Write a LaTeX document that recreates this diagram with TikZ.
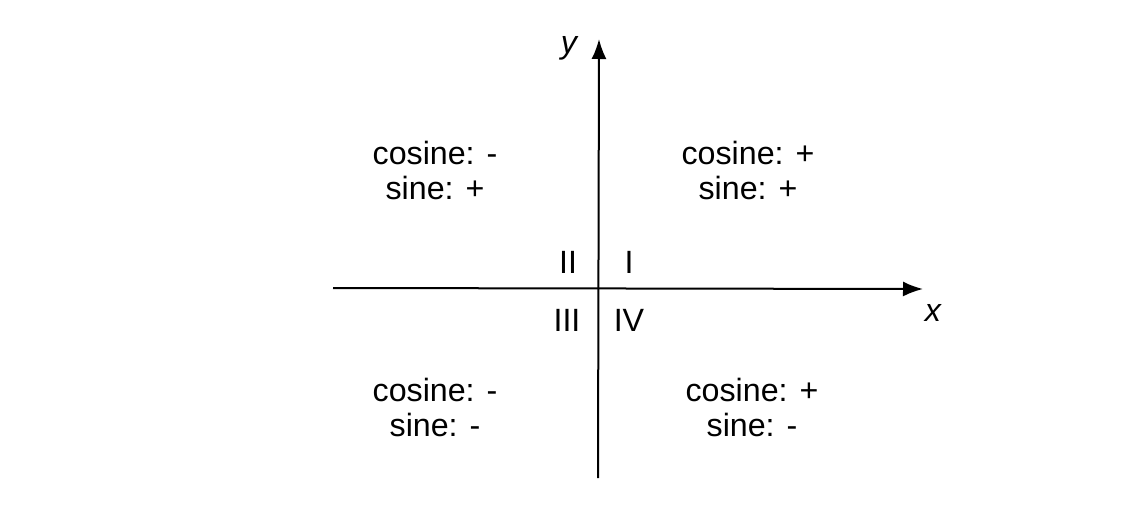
\documentclass[tikz,border=0pt]{standalone}
\usepackage{fontspec}
\setmainfont{Liberation Sans}
\usetikzlibrary{arrows.meta}

\tikzset{
  axis/.style={line width=1pt, -{Latex[length=10pt,width=7.5pt]}},
  signs/.style={align=center, font=\fontsize{16.1}{17.5}\selectfont},
  numeral/.style={font=\fontsize{16.1}{17.5}\selectfont},
  axlabel/.style={font=\fontsize{16.1}{17.5}\selectfont\itshape}
}

\begin{document}
\begin{tikzpicture}[x=0.5pt, y=-0.5pt]
        \useasboundingbox (0,0) rectangle (1132,520);
        \coordinate (west) at (333,288);
        \coordinate (east) at (923,289);
        \coordinate (south) at (598,478);
        \coordinate (north) at (599,39);
        \draw[axis] (west) -- (east);
        \draw[axis] (south) -- (north);
        \node[axlabel] (ylab) at (569,48) {y};
        \node[axlabel] (xlab) at (933,313) {x};
        \foreach \name/\x/\y/\numtext in {one/629/262/I, two/568/262/II, three/567/320/III, four/629/320/IV} {
            \node[numeral] (\name) at (\x,\y) {\numtext};
        }
        \foreach \name/\x/\y/\cosign/\sinsign in {q1/748/170/+/+, q2/435/170/-/+, q3/435/407/-/-, q4/752/407/+/-} {
            \node[signs] (\name) at (\x,\y) {cosine: \cosign\\sine: \sinsign};
        }
    \end{tikzpicture}
\end{document}
